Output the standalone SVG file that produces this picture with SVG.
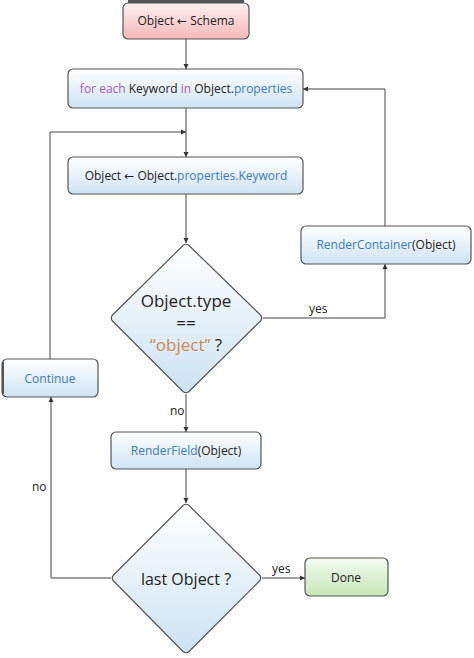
<svg xmlns="http://www.w3.org/2000/svg" width="474" height="658" viewBox="0 0 474 658">
<defs>
<linearGradient id="gb" x1="0" y1="0" x2="0" y2="1"><stop offset="0" stop-color="#ffffff"/><stop offset="1" stop-color="#cfe3f3"/></linearGradient>
<linearGradient id="gr" x1="0" y1="0" x2="0" y2="1"><stop offset="0" stop-color="#fdf0f0"/><stop offset="1" stop-color="#f5b8b8"/></linearGradient>
<linearGradient id="gg" x1="0" y1="0" x2="0" y2="1"><stop offset="0" stop-color="#f4fbf1"/><stop offset="1" stop-color="#c6e6b8"/></linearGradient>
<linearGradient id="gd" x1="0" y1="0" x2="0" y2="1"><stop offset="0" stop-color="#ffffff"/><stop offset="1" stop-color="#cde2f2"/></linearGradient>
<marker id="ah" markerWidth="6" markerHeight="6" refX="5" refY="3" orient="auto" markerUnits="userSpaceOnUse"><path d="M0,0.5 L5,3 L0,5.5 z" fill="#333"/></marker>
</defs>
<style>
.box{fill:url(#gb);stroke:#555;stroke-width:1.2}
.dia{fill:url(#gd);stroke:#555;stroke-width:1.2;stroke-linejoin:round}
.t{font-family:"Open Sans","Noto Sans",sans-serif;font-size:12px;fill:#222;text-anchor:middle}
.big{font-size:17px}
.lbl{font-family:"Open Sans","Noto Sans",sans-serif;font-size:12px;fill:#222}
.ar{font-family:"DejaVu Sans",sans-serif}
.b{fill:#3b7bbf}
.p{fill:#a35bb8}
.o{fill:#c98a52}
.c{fill:none;stroke:#444;stroke-width:1}
</style>
<rect x="0" y="0" width="474" height="658" fill="#ffffff"/>
<g id="connectors">
<line class="c" x1="186" y1="39" x2="186" y2="69" marker-end="url(#ah)"/>
<line class="c" x1="186" y1="108" x2="186" y2="157" marker-end="url(#ah)"/>
<polyline class="c" points="50,359 50,132 186,132" marker-end="url(#ah)"/>
<line class="c" x1="186" y1="194" x2="186" y2="243" marker-end="url(#ah)"/>
<polyline class="c" points="263,318 385,318 385,264" marker-end="url(#ah)"/>
<polyline class="c" points="385,226 385,89 303,89" marker-end="url(#ah)"/>
<line class="c" x1="186" y1="394" x2="186" y2="432" marker-end="url(#ah)"/>
<line class="c" x1="186" y1="469" x2="186" y2="503" marker-end="url(#ah)"/>
<polyline class="c" points="111,578 51,578 51,397" marker-end="url(#ah)"/>
<line class="c" x1="262" y1="578" x2="305" y2="578" marker-end="url(#ah)"/>
<text class="lbl" x="309" y="313">yes</text>
<text class="lbl" x="170" y="415">no</text>
<text class="lbl" x="32" y="491">no</text>
<text class="lbl" x="272" y="573">yes</text>
</g>
<g id="start">
<rect x="123" y="3" width="126" height="36" rx="5" fill="url(#gr)" stroke="#555" stroke-width="1.2"/>
<rect x="128" y="0" width="116" height="3" fill="#555"/>
<text class="t" x="186" y="25">Object <tspan class="ar">←</tspan> Schema</text>
</g>
<g id="foreach">
<rect class="box" x="68" y="69" width="235" height="39" rx="5"/>
<text class="t" x="186" y="93"><tspan class="p">for each</tspan> Keyword <tspan class="p">in</tspan> Object.<tspan class="b">properties</tspan></text>
</g>
<g id="assign">
<rect class="box" x="68" y="157" width="235" height="37" rx="5"/>
<text class="t" x="186" y="180">Object <tspan class="ar">←</tspan> Object.<tspan class="b">properties.Keyword</tspan></text>
</g>
<g id="rendercontainer">
<rect class="box" x="301" y="226" width="170" height="38" rx="5"/>
<text class="t" x="386" y="249"><tspan class="b">RenderContainer</tspan>(Object)</text>
</g>
<g id="typecheck">
<path class="dia" d="M183,245.5 Q186,243 189,245.5 L260.5,315 Q263,318 260.5,321 L189,391.5 Q186,394 183,391.5 L112.5,321 Q110,318 112.5,315 Z"/>
<text class="t big" x="186" y="307">Object.type</text>
<text class="t big" x="186" y="329">==</text>
<text class="t big" x="186" y="351"><tspan class="o">“object”</tspan> ?</text>
</g>
<g id="continue">
<rect class="box" x="2" y="359" width="96" height="38" rx="5"/>
<rect x="2" y="362" width="2" height="32" fill="#555"/>
<text class="t" x="50" y="383"><tspan class="b">Continue</tspan></text>
</g>
<g id="renderfield">
<rect class="box" x="111" y="432" width="150" height="37" rx="5"/>
<text class="t" x="186" y="455"><tspan class="b">RenderField</tspan>(Object)</text>
</g>
<g id="lastcheck">
<path class="dia" d="M183,505.5 Q186,503 189,505.5 L259.5,575 Q262,578 259.5,581 L189,651.5 Q186,654 183,651.5 L113.5,581 Q111,578 113.5,575 Z"/>
<text class="t big" x="186" y="585" style="font-size:16px">last Object ?</text>
</g>
<g id="done">
<rect x="305" y="558" width="83" height="38" rx="5" fill="url(#gg)" stroke="#555" stroke-width="1.2"/>
<text class="t" x="346" y="582">Done</text>
</g>
</svg>
